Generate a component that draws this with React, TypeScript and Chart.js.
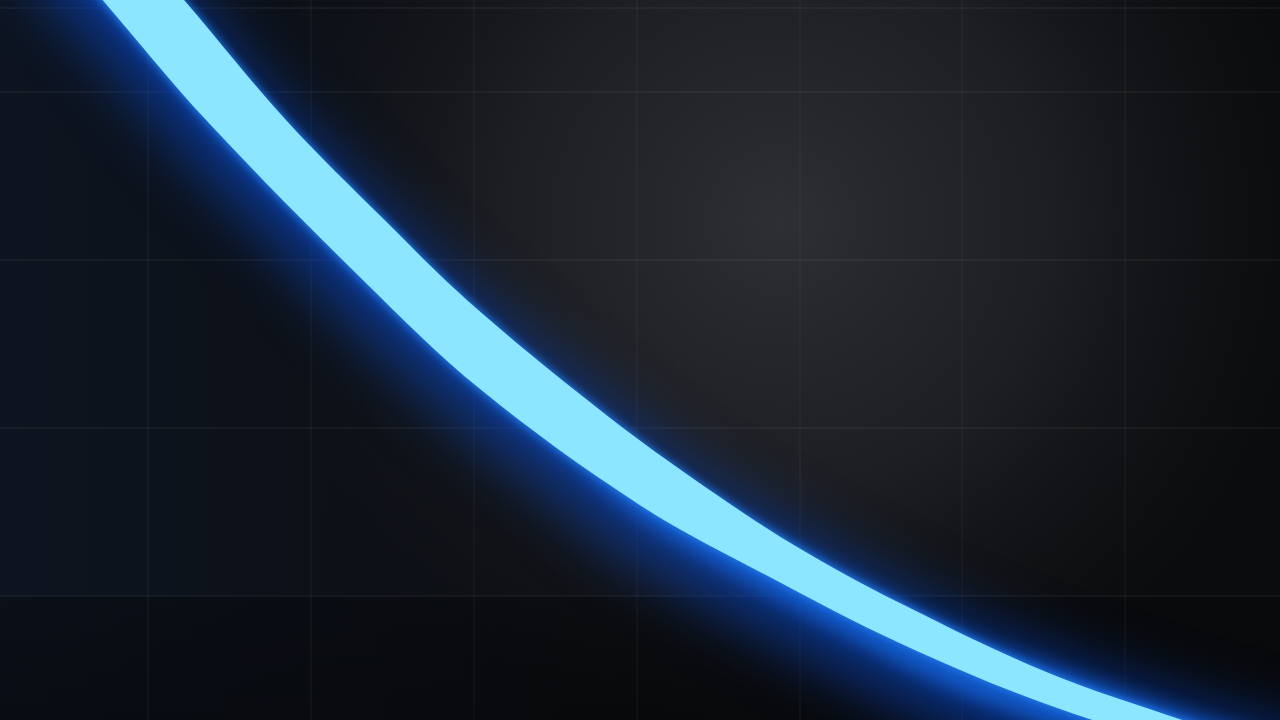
import React, { useEffect, useRef } from "react";
import { Chart, registerables } from "chart.js";

Chart.register(...registerables);

// Values (x in grid columns, y in grid rows)
// upper-right edge of the glowing band
const UPPER_X = [-0.58, 0.22, 0.85, 1.45, 1.96, 2.77, 3.33, 3.97, 4.61, 5.53, 6.35, 7.19];
const UPPER_Y = [4.44, 3.55, 2.83, 2.24, 1.76, 1.11, 0.71, 0.3, -0.04, -0.46, -0.74, -1.01];
// lower-left edge of the glowing band
const LOWER_X = [-1.07, -0.28, 0.36, 1.32, 2.04, 3.02, 3.82, 4.61, 5.53, 7.68];
const LOWER_Y = [4.44, 3.55, 2.83, 1.88, 1.23, 0.54, 0.11, -0.28, -0.65, -1.33];
// centre line of the band (used for the halo)
const CENTER_X = [-0.36, -0.03, 0.29, 0.61, 1.09, 1.58, 2.16, 2.67, 3.22, 4.56, 5.03, 5.5, 6.32, 7.07];
const CENTER_Y = [3.9, 3.55, 3.19, 2.83, 2.36, 1.88, 1.37, 0.98, 0.56, -0.16, -0.38, -0.55, -0.83, -1.04];

const X_TICKS = [0, 1, 2, 3, 4, 5, 6];
const Y_TICKS = [0, 1, 2, 3, 3.5];
const X_RANGE = [-0.91, 6.95];
const Y_RANGE = [-0.74, 3.55];

const bgPlugin = {
  id: "bg",
  beforeDraw(chart: any) {
    const { ctx, width, height } = chart;
    ctx.save();
    ctx.fillStyle = "#0b0c0e";
    ctx.fillRect(0, 0, width, height);
    const lg = ctx.createLinearGradient(0, 0, 650, 0);
    lg.addColorStop(0, "rgba(15,26,44,0.6)");
    lg.addColorStop(1, "rgba(15,26,44,0)");
    ctx.fillStyle = lg;
    ctx.fillRect(0, 0, width, height);
    const rg = ctx.createRadialGradient(780, 220, 0, 780, 220, 540);
    rg.addColorStop(0, "rgba(45,47,52,1)");
    rg.addColorStop(0.5, "rgba(33,35,40,0.8)");
    rg.addColorStop(1, "rgba(20,22,26,0)");
    ctx.fillStyle = rg;
    ctx.fillRect(0, 0, width, height);
    const bg2 = ctx.createLinearGradient(0, 596, 0, 720);
    bg2.addColorStop(0, "rgba(4,5,7,0.3)");
    bg2.addColorStop(1, "rgba(4,5,7,0.5)");
    ctx.fillStyle = bg2;
    ctx.fillRect(0, 596, width, height - 596);
    ctx.restore();
  },
};

// halo datasets are drawn off-canvas so that only their blurred shadow shows
const SHIFT = 20000;
const HALO: Record<number, [string, number, number, number]> = {
  0: ["rgba(10,68,185,0.7)", 60, -10, 14],
  1: ["rgba(20,98,215,0.85)", 18, -3, 4],
};

const glowPlugin = {
  id: "glow",
  beforeDatasetsDraw(chart: any) {
    const ctx = chart.ctx;
    ctx.save();
    ctx.shadowColor = "rgba(40,140,255,0.9)";
    ctx.shadowBlur = 8;
  },
  beforeDatasetDraw(chart: any, args: any) {
    const h = HALO[args.index];
    if (!h) return;
    const ctx = chart.ctx;
    ctx.save();
    ctx.translate(-SHIFT, 0);
    ctx.shadowColor = h[0];
    ctx.shadowBlur = h[1];
    ctx.shadowOffsetX = SHIFT + h[2];
    ctx.shadowOffsetY = h[3];
  },
  afterDatasetDraw(chart: any, args: any) {
    if (!HALO[args.index]) return;
    chart.ctx.restore();
  },
  afterDatasetsDraw(chart: any) {
    chart.ctx.restore();
  },
};

export default function App() {
  const ref = useRef<HTMLCanvasElement | null>(null);

  useEffect(() => {
    if (!ref.current) return;
    const pts = (xs: number[], ys: number[]) => xs.map((x, i) => ({ x, y: ys[i] }));
    const common = {
      pointRadius: 0,
      tension: 0.35,
      clip: false,
    };
    const chart = new Chart(ref.current, {
      type: "line",
      data: {
        datasets: [
          {
            ...common,
            data: pts(CENTER_X, CENTER_Y),
            borderColor: "#0c50c8",
            borderWidth: 100,
            borderCapStyle: "round",
            fill: false,
            order: 4,
          } as any,
          {
            ...common,
            data: pts(CENTER_X, CENTER_Y),
            borderColor: "#1870f0",
            borderWidth: 54,
            borderCapStyle: "round",
            fill: false,
            order: 3,
          } as any,
          {
            ...common,
            data: pts(UPPER_X, UPPER_Y),
            borderWidth: 0,
            backgroundColor: "#8de6ff",
            fill: "+1",
            order: 1,
          } as any,
          {
            ...common,
            data: pts(LOWER_X, LOWER_Y),
            borderWidth: 0,
            fill: false,
            order: 2,
          } as any,
        ],
      },
      options: {
        responsive: false,
        animation: false,
        layout: { padding: 0 },
        plugins: {
          legend: { display: false },
          tooltip: { enabled: false },
          filler: { propagate: false },
        },
        scales: {
          x: {
            type: "linear",
            min: X_RANGE[0],
            max: X_RANGE[1],
            afterBuildTicks: (s: any) => {
              s.ticks = X_TICKS.map((v) => ({ value: v }));
            },
            ticks: { display: false },
            border: { display: false },
            grid: { color: "rgba(255,255,255,0.03)", lineWidth: 2, drawTicks: false },
          },
          y: {
            type: "linear",
            min: Y_RANGE[0],
            max: Y_RANGE[1],
            afterBuildTicks: (s: any) => {
              s.ticks = Y_TICKS.map((v) => ({ value: v }));
            },
            ticks: { display: false },
            border: { display: false },
            grid: { color: "rgba(255,255,255,0.045)", lineWidth: 2, drawTicks: false },
          },
        },
      },
      plugins: [bgPlugin, glowPlugin],
    });
    return () => chart.destroy();
  }, []);

  return (
    <div style={{ position: "fixed", left: 0, top: 0, width: 1280, height: 720, background: "#0b0c0e" }}>
      <canvas ref={ref} width={1280} height={720} style={{ display: "block" }} />
    </div>
  );
}
